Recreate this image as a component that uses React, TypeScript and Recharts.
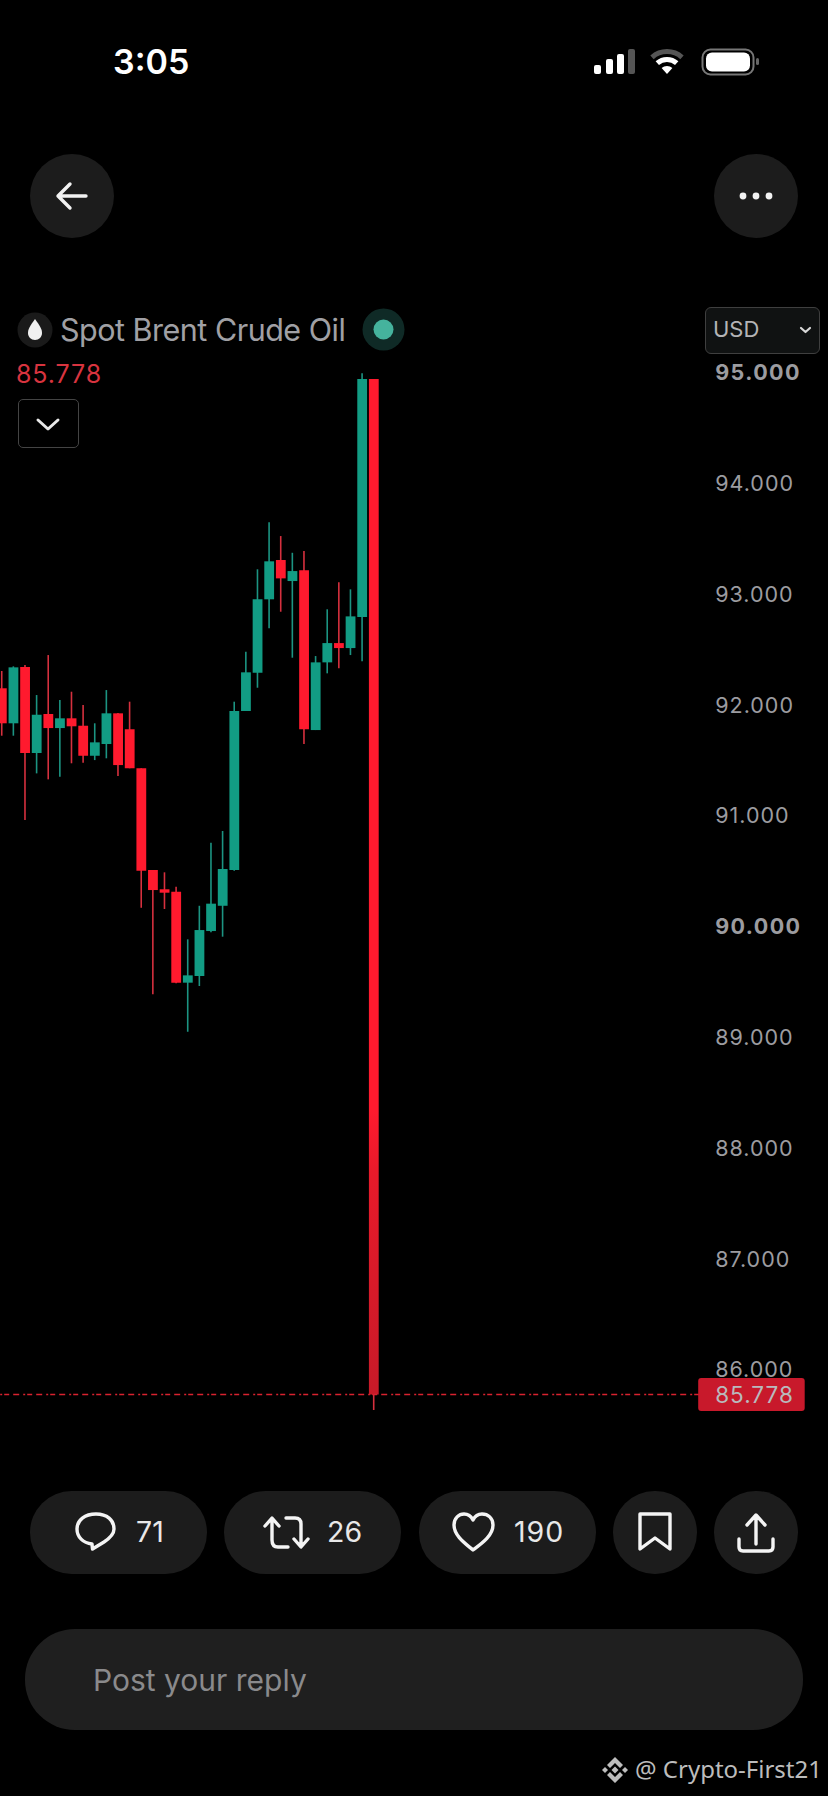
import { ComposedChart, Bar, Cell, XAxis, YAxis, ReferenceLine } from "recharts";

const opens = [92.152, 91.836, 92.344, 91.568, 91.92, 91.793, 91.881, 91.814, 91.543, 91.649, 91.926, 91.782, 91.43, 90.512, 90.338, 90.316, 89.495, 89.555, 89.961, 90.189, 90.512, 91.947, 92.293, 92.955, 93.31, 93.12, 93.217, 91.775, 92.386, 92.56, 92.515, 92.795, 94.943];
const closes = [91.836, 92.341, 91.568, 91.913, 91.793, 91.881, 91.809, 91.543, 91.664, 91.926, 91.459, 91.43, 90.505, 90.331, 90.307, 89.495, 89.561, 89.97, 90.208, 90.521, 91.947, 92.296, 92.955, 93.298, 93.144, 93.21, 91.782, 92.386, 92.56, 92.515, 92.801, 94.943, 85.778];
const highs = [92.308, 92.35, 92.362, 92.091, 92.452, 92.046, 92.121, 92.001, 91.836, 92.136, 91.93, 92.031, 91.43, 90.512, 90.491, 90.361, 89.886, 90.189, 90.758, 90.864, 92.031, 92.482, 93.226, 93.65, 93.526, 93.375, 93.391, 92.443, 92.865, 93.108, 93.045, 94.995, 94.943];
const lows = [91.724, 91.724, 90.963, 91.384, 91.33, 91.354, 91.475, 91.48, 91.504, 91.52, 91.36, 91.43, 90.171, 89.39, 90.16, 89.49, 89.052, 89.465, 89.95, 89.91, 90.505, 91.947, 92.157, 92.693, 92.843, 92.428, 91.649, 91.775, 92.287, 92.332, 92.452, 92.395, 85.638];
const priceTicks = [86, 87, 88, 89, 90, 91, 92, 93, 94, 95];
const boldTicks = [90, 95];
const lastPrice = 85.778;

const UP = "#129c84";
const DOWN = "#ff1a2e";
const WICK_UP = "#1c9482";
const WICK_DOWN = "#d6303e";
const FONT = "Inter, sans-serif";

const rows = opens.map((open, i) => ({
  slot: i,
  wick: [lows[i], highs[i]],
  body: [Math.min(open, closes[i]), Math.max(open, closes[i])],
  up: closes[i] >= open,
}));

function PriceTick({ x, y, payload }: any) {
  const bold = boldTicks.includes(payload.value);
  return (
    <text x={x} y={y - 0.5} fill="#9c9ca0" fontFamily={FONT} fontSize={21.5} letterSpacing={bold ? 1.4 : 1}
      fontWeight={bold ? 700 : 400} dominantBaseline="central" textAnchor="start">
      {payload.value.toFixed(3)}
    </text>
  );
}

function PriceTag({ viewBox }: any) {
  const right = viewBox.x + viewBox.width;
  const mid = viewBox.y;
  return (
    <g>
      <rect x={right - 1} y={mid - 16.5} width={106.5} height={33} rx={3} fill="#c8192b" />
      <text x={right + 16} y={mid} fill="#b9b9bd" fontFamily={FONT} fontSize={22.5} letterSpacing={1}
        dominantBaseline="central">{lastPrice.toFixed(3)}</text>
    </g>
  );
}

function Pill({ x, w, y = 1491, h = 83, r = 42, fill = "#1c1c1c" }: any) {
  return <div style={{ position: "absolute", left: x, top: y, width: w, height: h, borderRadius: r, background: fill }} />;
}

function Label({ x, y, size, color, weight = 400, family = FONT, spacing = 0, children }: any) {
  return (
    <div style={{ position: "absolute", left: x, top: y, transform: "translateY(-50%)", fontFamily: family, fontSize: size, color, fontWeight: weight, letterSpacing: spacing, whiteSpace: "nowrap", lineHeight: 1 }}>
      {children}
    </div>
  );
}

export default function App() {
  return (
    <div style={{ position: "absolute", left: 0, top: 0, width: 828, height: 1796, background: "#000", overflow: "hidden" }}>
      {/* status bar and buttons */}
      <Label x={113} y={62} size={34} color="#fff" weight={600}>3:05</Label>
      <Pill x={30} w={84} y={154} h={84} fill="#1c1c1c" />
      <Pill x={714} w={84} y={154} h={84} fill="#1c1c1c" />

      {/* title row */}
      <Label x={60} y={330} size={30.5} color="#a0a0a5" spacing={-0.5}>Spot Brent Crude Oil</Label>
      <Label x={16} y={374} size={25} color="#d8343f" spacing={0.9}>85.778</Label>
      <div style={{ position: "absolute", left: 18, top: 399, width: 61, height: 49, border: "1.5px solid #444", borderRadius: 5, boxSizing: "border-box" }} />
      <div style={{ position: "absolute", left: 705, top: 307, width: 115, height: 47, background: "#101212", border: "1.5px solid #3f3f3f", borderRadius: 6, boxSizing: "border-box" }} />
      <Label x={713} y={329} size={22} color="#b4b4b6">USD</Label>

      <ComposedChart width={828} height={1796} data={rows} margin={{ top: 339.5, right: 0, bottom: 315.3, left: 0 }} style={{ position: "absolute", left: 0, top: 0 }}>
        <defs>
          <linearGradient id="lastCandle" x1="0" y1="0" x2="0" y2="1">
            <stop offset="0" stopColor={DOWN} />
            <stop offset="0.72" stopColor={DOWN} />
            <stop offset="0.78" stopColor="#e81a2a" />
            <stop offset="1" stopColor="#c81a28" />
          </linearGradient>
        </defs>
        <XAxis xAxisId="wick" dataKey="slot" type="number" domain={[-0.15, 60]} hide />
        <XAxis xAxisId="body" dataKey="slot" type="number" domain={[-0.15, 60]} hide />
        <YAxis orientation="right" type="number" domain={[85, 95.3]} ticks={priceTicks} width={128.8} axisLine={false} tickLine={false} tickSize={0} tickMargin={16} tick={<PriceTick />} interval={0} />
        <Bar xAxisId="wick" dataKey="wick" barSize={1.6} isAnimationActive={false}>
          {rows.map((r) => <Cell key={r.slot} fill={r.up ? WICK_UP : WICK_DOWN} />)}
        </Bar>
        <Bar xAxisId="body" dataKey="body" barSize={9.8} isAnimationActive={false}>
          {rows.map((r, i) => <Cell key={r.slot} fill={i === rows.length - 1 ? "url(#lastCandle)" : r.up ? UP : DOWN} />)}
        </Bar>
        <ReferenceLine xAxisId="body" y={lastPrice} stroke="#d8222f" strokeWidth={1.5} strokeDasharray="5 2 2 4 6 4" label={<PriceTag />} />
      </ComposedChart>

      {/* bottom action row */}
      <Pill x={30} w={177} />
      <Pill x={224} w={177} />
      <Pill x={419} w={177} />
      <Pill x={613} w={84} />
      <Pill x={714} w={84} />
      <Label x={136} y={1532} size={28.5} color="#e8e8e8" spacing={0.2}>71</Label>
      <Label x={327} y={1532} size={28.5} color="#e8e8e8" spacing={0.2}>26</Label>
      <Label x={514} y={1532} size={28.5} color="#e8e8e8" spacing={1}>190</Label>
      <Pill x={25} w={778} y={1629} h={101} r={50} fill="#1f1f1f" />
      <Label x={93} y={1680} size={30} color="#8a8a8c">Post your reply</Label>
      <Label x={635} y={1769} size={24} color="#bcbcbc" family="'Noto Sans', sans-serif">@ Crypto-First21</Label>

      <svg width={828} height={1796} style={{ position: "absolute", left: 0, top: 0, pointerEvents: "none" }}>
        {/* signal, wifi, battery */}
        <g fill="#fff">
          <rect x={594} y={65} width={7} height={9} rx={2} />
          <rect x={606} y={59} width={7} height={15} rx={2} />
          <rect x={617} y={54} width={7} height={20} rx={2} />
          <rect x={628} y={49} width={7} height={25} rx={2} fill="#555" />
          <path d="M667 74 L661.6 68.1 A8 8 0 0 1 672.4 68.1Z" />
          <rect x={706} y={52.5} width={44} height={19} rx={6} />
          <rect x={756} y={58} width={3} height={7} rx={1.5} fill="#666" />
        </g>
        <path d="M652 57.3 A22.5 22.5 0 0 1 682 57.3" fill="none" stroke="#555" strokeWidth={5} />
        <path d="M657.3 63.2 A14.5 14.5 0 0 1 676.7 63.2" fill="none" stroke="#fff" strokeWidth={5} />
        <rect x={702.5} y={49.5} width={51} height={25} rx={8} fill="none" stroke="#777" strokeWidth={2} />
        {/* back arrow, more dots */}
        <path d="M86 196 H58 M70 184 L58 196 L70 208" fill="none" stroke="#f2f2f2" strokeWidth={3.4} strokeLinecap="round" strokeLinejoin="round" />
        <g fill="#f2f2f2"><circle cx={743} cy={196} r={3.4} /><circle cx={756} cy={196} r={3.4} /><circle cx={769} cy={196} r={3.4} /></g>
        {/* title icons */}
        <circle cx={35} cy={330} r={17.5} fill="#1a1a1a" />
        <path d="M35 319 C30 326 28 329 28 333 C28 337 31 340 35 340 C39 340 42 337 42 333 C42 329 40 326 35 319Z" fill="#f0f0f0" />
        <circle cx={383.5} cy={329.5} r={21} fill="#0f2a26" />
        <circle cx={383.5} cy={329.5} r={10} fill="#45b39d" />
        <path d="M38 420 L48 429 L58 420" fill="none" stroke="#e8e8e8" strokeWidth={3} strokeLinecap="round" strokeLinejoin="round" />
        <path d="M801 328 L805.5 332 L810 328" fill="none" stroke="#d8d8d8" strokeWidth={2.2} strokeLinecap="round" strokeLinejoin="round" />
        {/* action icons */}
        <g fill="none" stroke="#f4f4f4" strokeWidth={3.4} strokeLinejoin="round" strokeLinecap="round">
          <path d="M96 1514 C85 1514 77 1520 77 1529 C77 1537 83 1543 92 1544 L92.500 1549 L104 1542 C110 1538 114 1534 114 1529 C114 1520 107 1514 96 1514Z" />
          <path d="M265 1526 L272 1518 L279 1526 M272 1519 V1540 C272 1545 274 1547 278 1547 H288 M286 1518 H295 C299 1518 301 1520 301 1524 V1546 M294 1539 L301 1547 L308 1539" />
          <path d="M473 1550 C466 1544 454 1536 454 1525 C454 1518 459 1514 464 1514 C468 1514 471 1516 473 1520 C475 1516 478 1514 482 1514 C488 1514 493 1518 493 1525 C493 1536 481 1544 473 1550Z" />
          <path d="M640 1514 H670 V1549 L655 1538 L640 1549Z" />
          <path d="M756 1544 V1516 M747 1525 L756 1515 L765 1525 M739 1539 V1547 C739 1550 741 1551 743 1551 H769 C771 1551 773 1550 773 1547 V1539" />
        </g>
        {/* watermark mark */}
        <g fill="#bdbdbd">
          <path d="M615 1757 L623 1765 L620 1768 L615 1763 L610 1768 L607 1765Z" />
          <path d="M615 1783 L623 1775 L620 1772 L615 1777 L610 1772 L607 1775Z" />
          <path d="M605 1767 L608 1770 L605 1773 L602 1770Z" />
          <path d="M625 1767 L628 1770 L625 1773 L622 1770Z" />
          <path d="M615 1766.500 L618.500 1770 L615 1773.500 L611.500 1770Z" />
        </g>
      </svg>
    </div>
  );
}
